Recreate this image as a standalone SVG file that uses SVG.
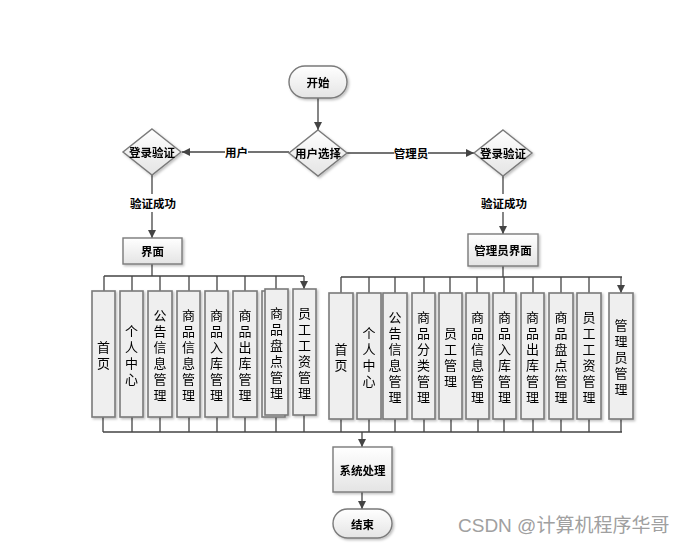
<svg xmlns="http://www.w3.org/2000/svg" width="684" height="545" viewBox="0 0 684 545">
<style>
.t{font-family:"Noto Sans CJK SC","Liberation Sans",sans-serif;font-size:11.5px;font-weight:bold;fill:#000;text-anchor:middle;dominant-baseline:central}
.v{font-family:"Noto Sans CJK SC","Liberation Sans",sans-serif;font-size:13px;fill:#000;text-anchor:middle;dominant-baseline:central}
.s{fill:url(#g);stroke:#7a7a7a;stroke-width:1.4}
.b{fill:#efefef;stroke:#7a7a7a;stroke-width:1.6}
.c{fill:none;stroke:#444;stroke-width:1.3}
.a{marker-end:url(#ar)}
.w{font-family:"Liberation Sans","Noto Sans CJK SC",sans-serif;font-size:19px;fill:#a0a0a0}
</style>
<defs>
<linearGradient id="g" x1="0" y1="0" x2="0" y2="1"><stop offset="0" stop-color="#ffffff"/><stop offset="1" stop-color="#e4e4e4"/></linearGradient>
<filter id="sh" x="-20%" y="-20%" width="150%" height="150%"><feDropShadow dx="1.5" dy="1.5" stdDeviation="1" flood-color="#000" flood-opacity="0.25"/></filter>
<marker id="ar" markerUnits="userSpaceOnUse" markerWidth="9" markerHeight="9" refX="8" refY="4" orient="auto"><path d="M0,0 L8,4 L0,8 z" fill="#444"/></marker>
</defs>
<rect width="684" height="545" fill="#fff"/>
<g id="connectors">
<path class="c a" d="M318 98 V130"/>
<path class="c" d="M289 152 H248"/>
<path class="c a" d="M225 152 H182"/>
<path class="c" d="M347 153 H394"/>
<path class="c a" d="M428 153 H474"/>
<path class="c" d="M152 175 V194"/>
<path class="c a" d="M152 212 V238"/>
<path class="c" d="M503 176 V194"/>
<path class="c a" d="M503 212 V234"/>
<path class="c" d="M152 264 V276 M104 276 H304 M503 266 V277 M341 277 H622"/>
<path class="c a" d="M104 276 V291 M132 276 V291 M160 276 V291 M189 276 V291 M217 276 V291 M245 276 V291 M276 276 V289 M304 276 V289"/>
<path class="c a" d="M341 277 V293 M369 277 V293 M395 277 V293 M424 277 V293 M450 277 V293 M477 277 V293 M504 277 V293 M533 277 V293 M561 277 V293 M589 277 V293 M621 277 V293"/>
<path class="c" d="M103 417 V432 M132 417 V432 M160 417 V432 M189 417 V432 M217 417 V432 M245 417 V432 M276 414 V432 M304 414 V432 M341 419 V432 M369 419 V432 M395 419 V432 M424 419 V432 M451 419 V432 M478 419 V432 M504 419 V432 M533 419 V432 M561 419 V432 M589 419 V432 M621 419 V432 M103 432 H622"/>
<path class="c a" d="M362 432 V447"/>
<path class="c a" d="M362 492 V509"/>
<text class="t" x="236.5" y="152">用户</text>
<text class="t" x="411" y="153">管理员</text>
<text class="t" x="153" y="203">验证成功</text>
<text class="t" x="504" y="203">验证成功</text>
</g>
<g id="start" filter="url(#sh)"><rect class="s" x="289" y="66" width="58" height="32" rx="16"/><text class="t" x="318" y="82">开始</text></g>
<g id="choose" filter="url(#sh)"><path class="s" d="M318 130 L347 153 L318 176 L289 153 Z"/><text class="t" x="318" y="153">用户选择</text></g>
<g id="login-user" filter="url(#sh)"><path class="s" d="M152 129 L181 152 L152 175 L123 152 Z"/><text class="t" x="152" y="152">登录验证</text></g>
<g id="login-admin" filter="url(#sh)"><path class="s" d="M503 130 L532 153 L503 176 L474 153 Z"/><text class="t" x="503" y="153">登录验证</text></g>
<g id="ui-user" filter="url(#sh)"><rect class="s" x="123" y="238" width="59" height="26"/><text class="t" x="152.5" y="251">界面</text></g>
<g id="ui-admin" filter="url(#sh)"><rect class="s" x="468" y="234" width="70" height="32"/><text class="t" x="503" y="250">管理员界面</text></g>

<g id="u1" filter="url(#sh)"><rect class="b" x="92" y="291" width="23" height="126"/><text class="v" x="103.5 103.5" y="346 362">首页</text></g>
<g id="u2" filter="url(#sh)"><rect class="b" x="120" y="291" width="23" height="126"/><text class="v" x="131.5 131.5 131.5 131.5" y="330 346 362 378">个人中心</text></g>
<g id="u3" filter="url(#sh)"><rect class="b" x="148" y="291" width="24" height="126"/><text class="v" x="160 160 160 160 160 160" y="314 330 346 362 378 394">公告信息管理</text></g>
<g id="u4" filter="url(#sh)"><rect class="b" x="177" y="291" width="23" height="126"/><text class="v" x="188.5 188.5 188.5 188.5 188.5 188.5" y="314 330 346 362 378 394">商品信息管理</text></g>
<g id="u5" filter="url(#sh)"><rect class="b" x="205" y="291" width="23" height="126"/><text class="v" x="216.5 216.5 216.5 216.5 216.5 216.5" y="314 330 346 362 378 394">商品入库管理</text></g>
<g id="u6" filter="url(#sh)"><rect class="b" x="233" y="291" width="24" height="126"/><text class="v" x="245 245 245 245 245 245" y="314 330 346 362 378 394">商品出库管理</text></g>
<g id="u7" filter="url(#sh)"><rect class="b" x="262" y="291" width="23" height="126"/><rect class="b" x="265" y="289" width="23" height="126"/><text class="v" x="276.5 276.5 276.5 276.5 276.5 276.5" y="312 328 344 360 376 392">商品盘点管理</text></g>
<g id="u8" filter="url(#sh)"><rect class="b" x="293" y="289" width="23" height="126"/><text class="v" x="304.5 304.5 304.5 304.5 304.5 304.5" y="312 328 344 360 376 392">员工工资管理</text></g>

<g id="a1" filter="url(#sh)"><rect class="b" x="329" y="293" width="24" height="126"/><text class="v" x="341 341" y="348 364">首页</text></g>
<g id="a2" filter="url(#sh)"><rect class="b" x="357" y="293" width="24" height="126"/><text class="v" x="369 369 369 369" y="332 348 364 380">个人中心</text></g>
<g id="a3" filter="url(#sh)"><rect class="b" x="383" y="293" width="24" height="126"/><text class="v" x="395 395 395 395 395 395" y="316 332 348 364 380 396">公告信息管理</text></g>
<g id="a4" filter="url(#sh)"><rect class="b" x="412" y="293" width="23" height="126"/><text class="v" x="423.5 423.5 423.5 423.5 423.5 423.5" y="316 332 348 364 380 396">商品分类管理</text></g>
<g id="a5" filter="url(#sh)"><rect class="b" x="439" y="293" width="23" height="126"/><text class="v" x="450.5 450.5 450.5 450.5" y="332 348 364 380">员工管理</text></g>
<g id="a6" filter="url(#sh)"><rect class="b" x="466" y="293" width="23" height="126"/><text class="v" x="477.5 477.5 477.5 477.5 477.5 477.5" y="316 332 348 364 380 396">商品信息管理</text></g>
<g id="a7" filter="url(#sh)"><rect class="b" x="493" y="293" width="23" height="126"/><text class="v" x="504.5 504.5 504.5 504.5 504.5 504.5" y="316 332 348 364 380 396">商品入库管理</text></g>
<g id="a8" filter="url(#sh)"><rect class="b" x="521" y="293" width="23" height="126"/><text class="v" x="532.5 532.5 532.5 532.5 532.5 532.5" y="316 332 348 364 380 396">商品出库管理</text></g>
<g id="a9" filter="url(#sh)"><rect class="b" x="549" y="293" width="24" height="126"/><text class="v" x="561 561 561 561 561 561" y="316 332 348 364 380 396">商品盘点管理</text></g>
<g id="a10" filter="url(#sh)"><rect class="b" x="577" y="293" width="24" height="126"/><text class="v" x="589 589 589 589 589 589" y="316 332 348 364 380 396">员工工资管理</text></g>
<g id="a11" filter="url(#sh)"><rect class="b" x="609" y="293" width="24" height="126"/><text class="v" x="621 621 621 621 621" y="324 340 356 372 388">管理员管理</text></g>

<g id="process" filter="url(#sh)"><rect class="s" x="333" y="447" width="59" height="45"/><text class="t" x="362.5" y="469.5">系统处理</text></g>
<g id="end" filter="url(#sh)"><rect class="s" x="333" y="509" width="59" height="29" rx="14.5"/><text class="t" x="362.5" y="523.5">结束</text></g>
<text class="w" x="458" y="532">CSDN @计算机程序华哥</text>
</svg>
